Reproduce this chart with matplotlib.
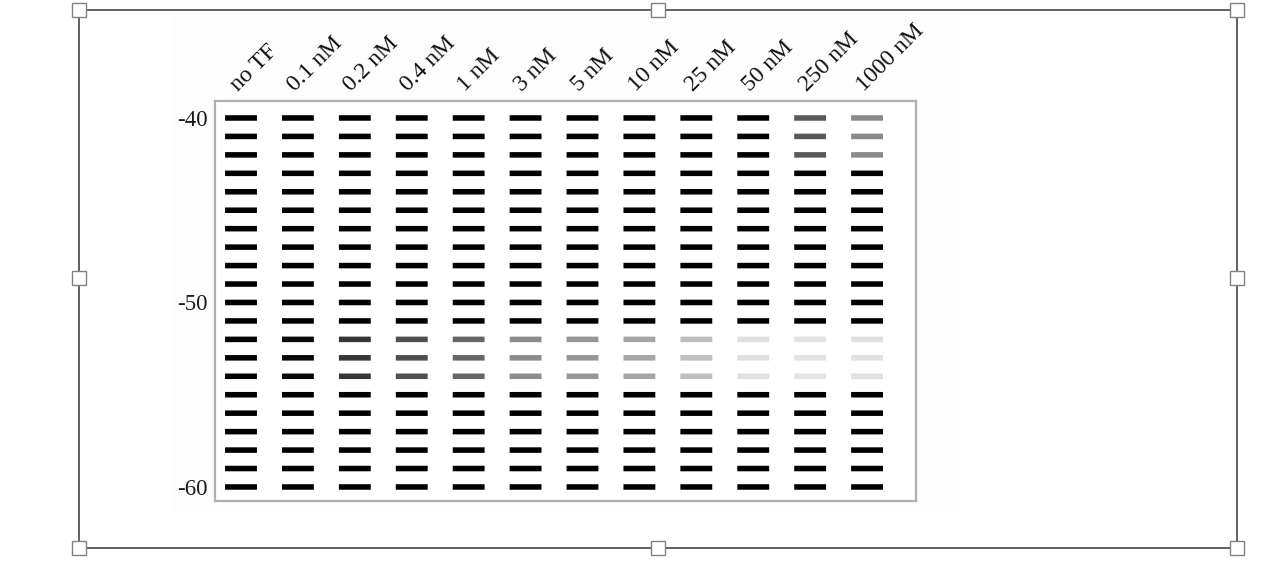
import matplotlib
matplotlib.use("Agg")
import matplotlib.pyplot as plt
from matplotlib.patches import Rectangle
import numpy as np

# lanes and positions
lanes = ["no TF", "0.1 nM", "0.2 nM", "0.4 nM", "1 nM", "3 nM", "5 nM",
         "10 nM", "25 nM", "50 nM", "250 nM", "1000 nM"]
positions = list(range(-40, -61, -1))
y_ticks = [-40, -50, -60]

# band intensity (1 = full black band), protected region -52..-54
footprint_rows = [-52, -53, -54]
footprint_intensity = [1.0, 0.97, 0.79, 0.69, 0.60, 0.45, 0.41, 0.35, 0.25, 0.12, 0.11, 0.12]
# weakened bands at -40..-42 at high concentration
top_rows = [-40, -41, -42]
top_intensity = [1.0, 1.0, 1.0, 1.0, 1.0, 1.0, 1.0, 1.0, 1.0, 1.0, 0.65, 0.46]

W, H = 1278, 584
fig = plt.figure(figsize=(W / 100, H / 100), dpi=100)
fig.patch.set_facecolor("white")


def px(x, y):
    return x / W, 1 - y / H


# faint off-white background of the pasted image
x0, y0 = px(170, 512)
fig.patches.append(Rectangle((x0, y0), 790 / W, 500 / H, transform=fig.transFigure,
                             facecolor="#fdfdfd", edgecolor="none", zorder=-5))

ax = fig.add_axes([215 / W, 1 - 501 / H, 701 / W, 400 / H])
ax.set_facecolor("white")
ax.set_zorder(2)

intensity = np.ones((len(positions), len(lanes)))
for r in footprint_rows:
    intensity[positions.index(r)] = footprint_intensity
for r in top_rows:
    intensity[positions.index(r)] = top_intensity

bar_w, bar_h = 0.56, 0.30
for j, lane in enumerate(lanes):
    for i, pos in enumerate(positions):
        g = 1 - intensity[i, j]
        bars = ax.bar(j, bar_h, bottom=pos - bar_h / 2, width=bar_w,
                      color=(g, g, g), edgecolor="none")
        bars[0].set_snap(False)

ax.set_xlim(-0.457, 11.86)
ax.set_ylim(-60.76, -39.08)
ax.set_xticks([])
ax.set_yticks(y_ticks)
ax.set_yticklabels([str(t) for t in y_ticks], family="Liberation Serif",
                   fontsize=16.5, color="#1a1a1a")
ax.tick_params(axis="y", length=0, pad=5)
for s in ax.spines.values():
    s.set_color("#b0b0b0")
    s.set_linewidth(1.6)

for j, lane in enumerate(lanes):
    ax.text(j - 0.06, -39.08 + 0.47, lane, rotation=45, rotation_mode="anchor",
            ha="left", va="baseline", family="Liberation Serif", fontsize=17,
            color="#111111", clip_on=False)

# document selection frame with handles
fx0, fx1, fy0, fy1 = 79, 1237, 10, 548
xs = [fx0, fx1, fx1, fx0, fx0]
ys = [fy0, fy0, fy1, fy1, fy0]
fig.add_artist(plt.Line2D([x / W for x in xs], [1 - y / H for y in ys],
                          transform=fig.transFigure, color="#555555", lw=1.3,
                          zorder=4))
hs = 14
for hx, hy in [(fx0, fy0), (658, fy0), (fx1, fy0), (fx0, 278), (fx1, 278),
               (fx0, fy1), (658, fy1), (fx1, fy1)]:
    lx, ly = px(hx - hs / 2, hy + hs / 2)
    fig.patches.append(Rectangle((lx, ly), hs / W, hs / H, transform=fig.transFigure,
                                 facecolor="white", edgecolor="#808080", lw=1.0,
                                 zorder=5))

fig.savefig("out.png", dpi=100)
